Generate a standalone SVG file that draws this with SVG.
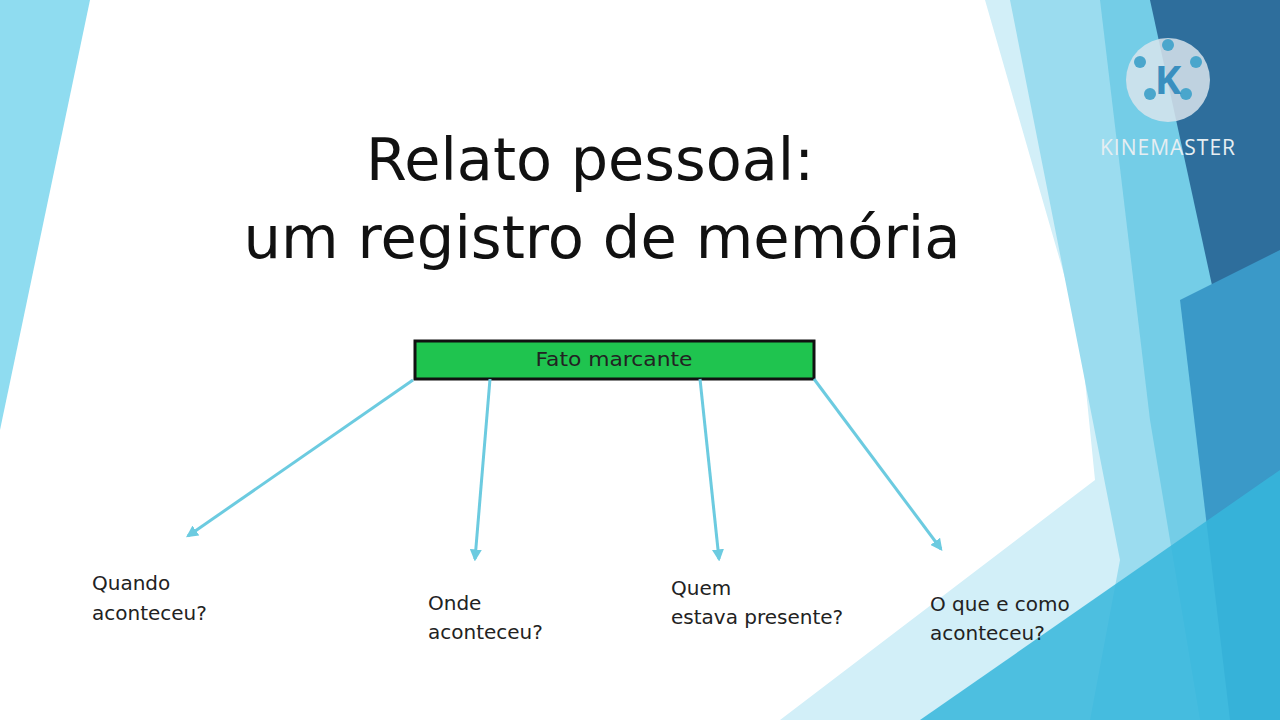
<svg xmlns="http://www.w3.org/2000/svg" width="1280" height="720" viewBox="0 0 1280 720">
<defs>
<style>
.lbl{font-family:"DejaVu Sans","Open Sans",sans-serif;font-size:20px;fill:#222}
.ttl{font-family:"DejaVu Sans","Open Sans",sans-serif;font-size:58px;fill:#111;text-anchor:middle}
.con{stroke:#6ccbe0;stroke-width:3;fill:none;marker-end:url(#ah)}
</style>
<marker id="ah" viewBox="0 0 10 10" refX="8" refY="5" markerWidth="4" markerHeight="4" orient="auto"><path d="M0,0L10,5L0,10z" fill="#6ccbe0"/></marker>
</defs>
<rect width="1280" height="720" fill="#fff"/>
<polygon points="0,0 90,0 0,430" fill="#8fdcf0"/>
<polygon points="985,0 1280,0 1280,720 780,720 1095,480 1080,330" fill="#d2eff8"/>
<polygon points="1010,0 1280,0 1280,720 1090,720 1120,560 1075,330" fill="#9bdcef"/>
<polygon points="1100,0 1280,0 1280,720 1200,720 1150,420" fill="#74cde7"/>
<polygon points="1150,0 1280,0 1280,280 1225,345" fill="#2e6e9c"/>
<polygon points="1180,300 1280,250 1280,720 1230,720" fill="#3a99c8"/>
<polygon points="920,720 1280,470 1280,720" fill="#36b6dc" opacity="0.85"/>
<g id="logo">
<circle cx="1168" cy="80" r="42" fill="#d8e4ec" opacity="0.85"/>
<circle cx="1168" cy="45" r="6" fill="#4aa6cc"/><circle cx="1140" cy="62" r="6" fill="#4aa6cc"/><circle cx="1196" cy="62" r="6" fill="#4aa6cc"/><circle cx="1150" cy="94" r="6" fill="#4aa6cc"/><circle cx="1186" cy="94" r="6" fill="#4aa6cc"/>
<text x="1168" y="94" text-anchor="middle" font-family="Open Sans,sans-serif" font-weight="bold" font-size="40" fill="#3a8fbf">K</text>
<text x="1168" y="155" text-anchor="middle" font-family="Open Sans,sans-serif" font-size="21" fill="#e6eef2" letter-spacing="1">KINEMASTER</text>
</g>
<g id="title">
<text class="ttl" x="590" y="180" textLength="448" lengthAdjust="spacingAndGlyphs">Relato pessoal:</text>
<text class="ttl" x="602" y="258" textLength="717" lengthAdjust="spacingAndGlyphs">um registro de memória</text>
</g>
<g id="fato">
<rect x="415" y="341" width="399" height="38" fill="#1fc44f" stroke="#111" stroke-width="3"/>
<text x="614" y="366" text-anchor="middle" class="lbl" textLength="157" lengthAdjust="spacingAndGlyphs">Fato marcante</text>
</g>
<g id="connectors">
<line class="con" x1="413" y1="380" x2="188" y2="536"/>
<line class="con" x1="490" y1="379" x2="475" y2="559"/>
<line class="con" x1="700" y1="379" x2="719" y2="559"/>
<line class="con" x1="814" y1="379" x2="941" y2="549"/>
</g>
<g id="n1"><text class="lbl" x="92" y="590">Quando</text><text class="lbl" x="92" y="620">aconteceu?</text></g>
<g id="n2"><text class="lbl" x="428" y="610">Onde</text><text class="lbl" x="428" y="639">aconteceu?</text></g>
<g id="n3"><text class="lbl" x="671" y="595">Quem</text><text class="lbl" x="671" y="624">estava presente?</text></g>
<g id="n4"><text class="lbl" x="930" y="611">O que e como</text><text class="lbl" x="930" y="640">aconteceu?</text></g>
</svg>
